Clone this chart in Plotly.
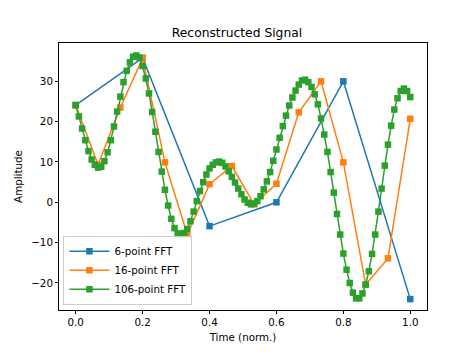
import plotly.graph_objects as go

# 6-point FFT
x6 = [0.0, 0.2, 0.4, 0.6, 0.8, 1.0]
y6 = [24.1, 35.8, -5.9, 0.0, 30.0, -24.0]

# 16-point FFT
x16 = [i / 15 for i in range(16)]
y16 = [24.1, 9.3, 23.5, 35.7, 9.9, -8.0, 4.5, 9.0, -0.5, 4.6, 22.3, 30.0, 9.9, -20.4, -13.9, 20.7]

# 106-point FFT
x106 = [i / 105 for i in range(106)]
y106 = [
    24.1, 21.3, 18.3, 15.4, 12.7, 10.6, 9.3, 8.6, 8.8, 10.2,
    12.4, 15.4, 18.8, 22.5, 26.2, 29.8, 32.6, 34.7, 36.1, 36.4,
    35.9, 33.8, 30.7, 27.0, 22.4, 17.5, 12.5, 7.6, 3.1, -0.8,
    -4.1, -6.4, -7.7, -8.0, -7.6, -6.6, -4.7, -2.3, 0.3, 2.8,
    5.0, 6.9, 8.4, 9.3, 9.9, 10.1, 9.8, 8.9, 7.7, 6.3,
    4.9, 3.4, 2.0, 0.7, -0.1, -0.5, -0.3, 0.3, 1.5, 3.2,
    5.2, 7.5, 10.3, 13.1, 16.0, 18.9, 21.5, 24.0, 26.0, 27.7,
    29.2, 30.2, 30.4, 29.8, 28.6, 26.8, 24.3, 20.8, 16.8, 12.5,
    7.5, 2.4, -2.9, -8.0, -12.7, -16.7, -20.0, -22.4, -23.8, -23.8,
    -22.6, -20.4, -17.1, -12.8, -8.0, -2.3, 3.4, 9.1, 14.3, 19.0,
    23.0, 25.8, 27.6, 28.2, 27.6, 26.1,
]

x_ticks = [0.0, 0.2, 0.4, 0.6, 0.8, 1.0]
y_ticks = [-20, -10, 0, 10, 20, 30]

series = [
    ("6-point FFT", x6, y6, "#1f77b4"),
    ("16-point FFT", x16, y16, "#ff7f0e"),
    ("106-point FFT", x106, y106, "#2ca02c"),
]

fig = go.Figure()
for name, xs, ys, col in series:
    fig.add_trace(go.Scatter(
        x=xs, y=ys, name=name, mode="lines+markers",
        line=dict(color=col, width=1.5),
        marker=dict(symbol="square", size=6.5, color=col),
    ))

font_family = "DejaVu Sans"
fs = 10.3
fig.update_layout(
    width=474, height=354,
    margin=dict(l=59, r=47, t=43, b=39),
    paper_bgcolor="white", plot_bgcolor="white",
    font=dict(family=font_family, size=fs, color="black"),
    title=dict(text="Reconstructed Signal", x=0.5, xanchor="center",
               y=(354 - 32.5) / 354, yanchor="middle", yref="container",
               font=dict(size=12.3, color="black")),
    showlegend=True,
    legend=dict(x=0.012, y=0.02, xanchor="left", yanchor="bottom",
                bgcolor="rgba(255,255,255,0.8)", bordercolor="#cccccc",
                borderwidth=1, font=dict(size=fs), tracegroupgap=0,
                itemwidth=40),
)
fig.update_xaxes(
    range=[-0.05, 1.05], tickvals=x_ticks, ticktext=[f"{v:.1f}" for v in x_ticks],
    showline=True, linecolor="black", linewidth=1, mirror=True,
    ticks="outside", ticklen=3, tickcolor="black", showgrid=False, zeroline=False,
    title=dict(text="Time (norm.)", standoff=6, font=dict(size=fs)),
)
fig.update_yaxes(
    range=[-26.7, 39.5], tickvals=y_ticks, ticktext=["\u221220", "\u221210", "0", "10", "20", "30"],
    showline=True, linecolor="black", linewidth=1, mirror=True,
    ticks="outside", ticklen=3, tickcolor="black", showgrid=False, zeroline=False,
    title=dict(text="Amplitude", standoff=6, font=dict(size=fs)),
)

fig.write_html("out.html")
